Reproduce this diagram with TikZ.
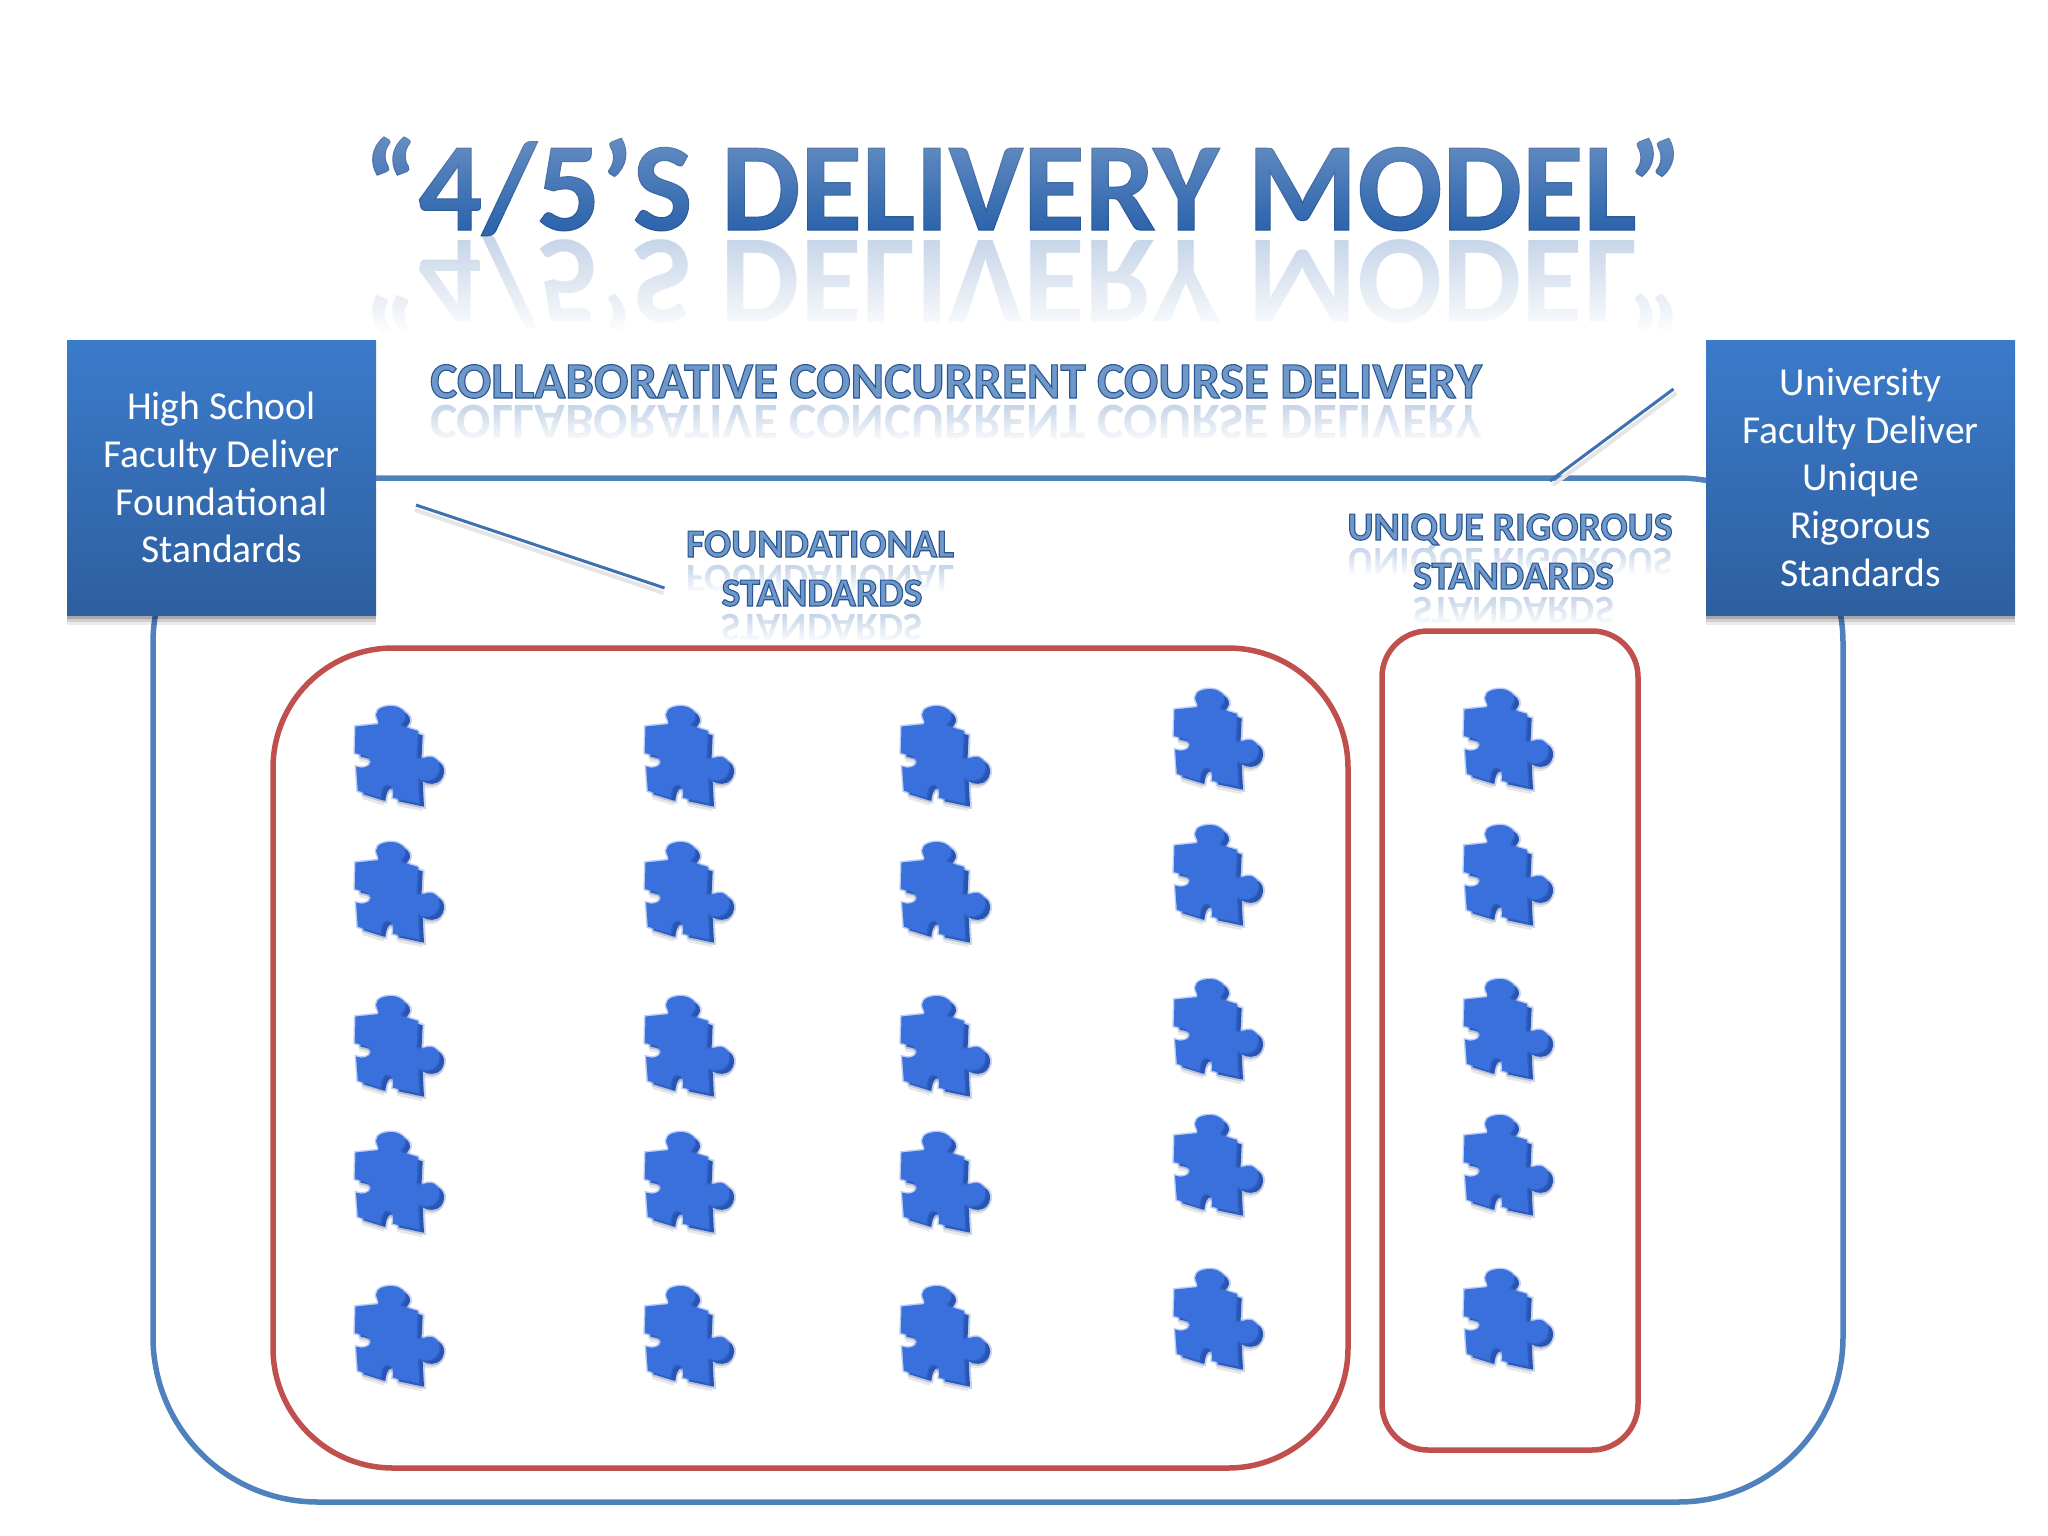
\documentclass[tikz,border=0pt]{standalone}
\usepackage{fontspec}
\setmainfont{Carlito}
\usetikzlibrary{fadings,shadows}
\definecolor{outerblue}{HTML}{4F81BD}
\definecolor{innerred}{HTML}{C0504D}
\definecolor{headblue}{HTML}{2F66AE}
\definecolor{linkblue}{HTML}{3E70B2}
\definecolor{faceblue}{HTML}{3A70DC}
\definecolor{sideblue}{HTML}{2855B4}
\definecolor{boxtop}{HTML}{3B7BCB}
\definecolor{boxbot}{HTML}{2E5F9F}
\definecolor{softfill}{HTML}{6F98C8}
% lighter fill with a dark edge, as the headings have
\newcommand{\edged}[1]{\special{pdf:code q 2 Tr 0.16 0.34 0.58 RG 1.1 w}#1\special{pdf:code Q}}
\tikzset{
    panel/.style={draw,rectangle,inner sep=0pt,outer sep=0pt,anchor=north west},
    outerpanel/.style={panel,draw=outerblue,line width=5.5pt,rounded corners=165pt},
    redpanel/.style={panel,draw=innerred,line width=5.5pt},
    bluebox/.style={rectangle,draw=none,inner sep=0pt,outer sep=0pt,minimum width=309pt,minimum height=275pt,
        top color=boxtop,bottom color=boxbot,text=white,align=center,
        font=\fontsize{39.6}{47.8}\selectfont,
        drop shadow={shadow xshift=0pt,shadow yshift=-10pt,opacity=.08,fill=black},
        drop shadow={shadow xshift=0pt,shadow yshift=-7pt,opacity=.12,fill=black},
        drop shadow={shadow xshift=0pt,shadow yshift=-4pt,opacity=.18,fill=black}},
    pointer/.style={draw=linkblue,line width=3pt},
    pointershadow/.style={draw=black!10,line width=4pt},
    head/.style={inner sep=0pt,anchor=base,text=headblue,align=center},
    small head/.style={head,text=softfill},
    mirror/.style={inner sep=0pt,anchor=base,text=headblue!34,yscale=-1,transform shape},
    fade/.style={draw=none,fill=white,path fading=north},
    sheen/.style={draw=none,fill=white,fill opacity=.28,path fading=south},
    piece/.pic={
        \begin{scope}[x=.3333pt,y=-.3333pt,shift={(-210,-231)}]
            \def\outline{(78,135) -- (145,128) .. controls (152,118) and (140,110) .. (140,98)
                .. controls (140,78) and (170,72) .. (190,74)
                .. controls (212,76) and (226,90) .. (224,106)
                .. controls (222,118) and (208,122) .. (212,133) -- (262,148) -- (258,230)
                .. controls (275,238) and (290,222) .. (305,226)
                .. controls (328,232) and (332,262) .. (318,280)
                .. controls (304,298) and (278,296) .. (262,286) -- (266,362) -- (190,346)
                .. controls (194,328) and (190,306) .. (172,306)
                .. controls (154,306) and (152,330) .. (150,345) -- (85,325) -- (80,256)
                .. controls (95,262) and (122,258) .. (124,240)
                .. controls (126,222) and (96,216) .. (76,212) -- cycle}
            \fill[black!30,opacity=.3,shift={(12,26)}] \outline;
            \draw[sideblue,line width=4pt,opacity=.25,shift={(16,12)}] \outline;
            \fill[sideblue,shift={(16,12)}] \outline;
            \draw[faceblue,line width=4pt,opacity=.35] \outline;
            \filldraw[draw=faceblue,fill=faceblue,line width=1pt] \outline;
        \end{scope}
    }
}
\begin{document}
\begin{tikzpicture}[x=1pt,y=-1pt]
    \useasboundingbox (0,0) rectangle (2048,1536);

    % title with its reflection
    \node[mirror] (titlem) at (1023,240) {\fontsize{126}{126}\selectfont\bfseries “4/5’S DELIVERY MODEL”};
    \fill[fade] (360,215) rectangle (1690,335);
    \node[head] (title) at (1023,230) {\fontsize{126}{126}\selectfont\bfseries\edged{“4/5’S DELIVERY MODEL”}};
    \fill[sheen] (360,130) rectangle (1690,225);

    \node[mirror] (subm) at (956,405) {\fontsize{51}{51}\selectfont\bfseries COLLABORATIVE CONCURRENT COURSE DELIVERY};
    \fill[fade] (420,395) rectangle (1490,445);
    \node[small head] (sub) at (956,398) {\fontsize{51}{51}\selectfont\bfseries\edged{COLLABORATIVE CONCURRENT COURSE DELIVERY}};

    % outer and inner panels
    \node[outerpanel,minimum width=1690pt,minimum height=1024pt] (outer) at (153,478) {};
    \node[redpanel,rounded corners=120pt,minimum width=1075pt,minimum height=820pt] (found) at (273,648) {};
    \node[redpanel,rounded corners=46pt,minimum width=256pt,minimum height=819pt] (unique) at (1382,631) {};

    % side boxes
    \node[bluebox] (hs) at (221.5,477.5) {High School\\Faculty Deliver\\Foundational\\Standards};
    \node[bluebox] (uni) at (1860.5,477.5) {University\\Faculty Deliver\\Unique\\Rigorous\\Standards};

    % group labels
    \node[mirror] (fm) at (820,565) {\fontsize{40}{40}\selectfont\bfseries FOUNDATIONAL};
    \fill[fade] (680,558) rectangle (960,594);
    \node[mirror] (sm) at (822,614) {\fontsize{40}{40}\selectfont\bfseries STANDARDS};
    \fill[fade] (715,607) rectangle (930,643);
    \node[small head] (f1) at (820,557) {\fontsize{40}{40}\selectfont\bfseries\edged{FOUNDATIONAL}};
    \node[small head] (f2) at (822,606) {\fontsize{40}{40}\selectfont\bfseries\edged{STANDARDS}};

    \node[mirror] (um) at (1510,548) {\fontsize{40}{40}\selectfont\bfseries UNIQUE RIGOROUS};
    \fill[fade] (1345,541) rectangle (1675,577);
    \node[mirror] (tm) at (1513.5,597) {\fontsize{40}{40}\selectfont\bfseries STANDARDS};
    \fill[fade] (1408,590) rectangle (1620,626);
    \node[small head] (u1) at (1510,540) {\fontsize{40}{40}\selectfont\bfseries\edged{UNIQUE RIGOROUS}};
    \node[small head] (u2) at (1513.5,589) {\fontsize{40}{40}\selectfont\bfseries\edged{STANDARDS}};

    % the two pointer lines
    \coordinate (fa) at (416,505);
    \coordinate (fb) at (664.5,588);
    \coordinate (ua) at (1673.5,389);
    \coordinate (ub) at (1550,481);
    \draw[pointershadow] ([shift={(-1,5)}]fa) -- ([shift={(-1,5)}]fb);
    \draw[pointershadow] ([shift={(3,4)}]ua) -- ([shift={(3,4)}]ub);
    \draw[pointer] (fa) -- (fb);
    \draw[pointer] (ua) -- (ub);

    % puzzle pieces
    \foreach \px in {400,690,946}
        \foreach \py in {759,895,1049,1185,1339}
            \pic at (\px,\py) {piece};
    \foreach \px in {1219,1509}
        \foreach \py in {742,878,1032,1168,1322}
            \pic at (\px,\py) {piece};
\end{tikzpicture}
\end{document}
